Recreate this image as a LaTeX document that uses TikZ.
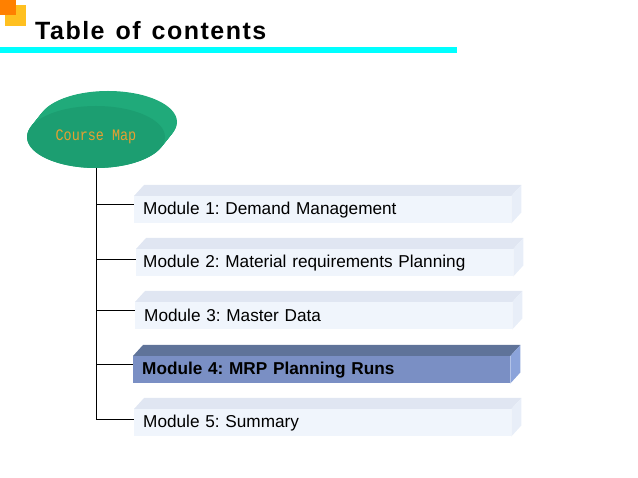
\documentclass[tikz,border=0pt]{standalone}
\usepackage{fontspec}
\usetikzlibrary{shapes.geometric}
\setmainfont{Liberation Sans}
\newfontfamily\monofam[FakeStretch=0.84]{Liberation Mono}
\newfontfamily\titlefam[LetterSpace=6,WordSpace=1.3]{Liberation Sans}
\frenchspacing
\definecolor{sqorange}{HTML}{FF8000}
\definecolor{sqyellow}{HTML}{FFC020}
\definecolor{cyanline}{HTML}{00FFFF}
\definecolor{ellfront}{HTML}{1C9E71}
\definecolor{ellside}{HTML}{20AA7A}
\definecolor{cmtext}{HTML}{E8A030}
\definecolor{lfront}{HTML}{F0F5FC}
\definecolor{ltop}{HTML}{E0E6F2}
\definecolor{lside}{HTML}{E8EEF8}
\definecolor{dfront}{HTML}{7A8FC4}
\definecolor{dtop}{HTML}{5F7399}
\definecolor{dside}{HTML}{8BA3DA}
\tikzset{
  modbox/.style={rectangle, anchor=north west, minimum width=377pt, minimum height=27pt,
    text width=359pt, inner xsep=9pt, inner ysep=0pt, align=left, font=\fontsize{17.2}{19}\selectfont},
  lightbox/.style={modbox, fill=lfront},
  darkbox/.style={modbox, fill=dfront, font=\fontsize{17.2}{19}\selectfont\bfseries},
  branch/.style={draw=black, line width=0.8pt},
}
\newcommand{\boxfaces}[3]{%
  \fill[#2] (#1.north west) -- ++(10,-11) -- ([shift={(10,-11)}]#1.north east) -- (#1.north east) -- cycle;
  \fill[#3] (#1.north east) -- ++(10,-11) -- ([shift={(10,-11)}]#1.south east) -- (#1.south east) -- cycle;
}
\begin{document}
\begin{tikzpicture}[x=1pt,y=-1pt]
\useasboundingbox (0,0) rectangle (638,478);
% corner squares
\fill[sqyellow] (5,5) rectangle (26,26);
\fill[sqorange] (0,0) rectangle (16,15);
% title
\node[anchor=base west, inner sep=0pt, font=\titlefam\fontsize{25}{28}\selectfont\bfseries] (title) at (35,40) {Table of contents};
\fill[cyanline] (0,47.5) rectangle (457,53.5);
% course map ellipse
\foreach \i in {0,0.5,...,12} {
  \fill[ellside] (96+\i,137-1.25*\i) ellipse[x radius=69, y radius=31];
}
\node[ellipse, fill=ellfront, minimum width=138pt, minimum height=62pt, inner sep=0pt,
  text=cmtext, font=\monofam\fontsize{16}{18}\selectfont] (cm) at (96,137) {Course Map};
% modules
\node[lightbox] (m1) at (134,196) {Module 1: Demand Management};
\node[lightbox, inner xsep=7pt, text width=363pt] (m2) at (136,249) {Module 2: Material requirements Planning};
\node[lightbox] (m3) at (135,302) {Module 3: Master Data};
\node[darkbox]  (m4) at (133,356) {Module 4: MRP Planning Runs};
\node[lightbox] (m5) at (134,409) {Module 5: Summary};
\boxfaces{m1}{ltop}{lside}
\boxfaces{m2}{ltop}{lside}
\boxfaces{m3}{ltop}{lside}
\boxfaces{m4}{dtop}{dside}
\boxfaces{m5}{ltop}{lside}
% tree
\coordinate (j1) at (96,204);
\coordinate (j2) at (96,259);
\coordinate (j3) at (96,310);
\coordinate (j4) at (96,364);
\coordinate (j5) at (96,419);
\draw[branch] (cm.south) -- (j5);
\draw[branch] (j1) -- (j1 -| m1.west);
\draw[branch] (j2) -- (j2 -| m2.west);
\draw[branch] (j3) -- (j3 -| m3.west);
\draw[branch] (j4) -- (j4 -| m4.west);
\draw[branch] (j5) -- (j5 -| m5.west);
\end{tikzpicture}
\end{document}
